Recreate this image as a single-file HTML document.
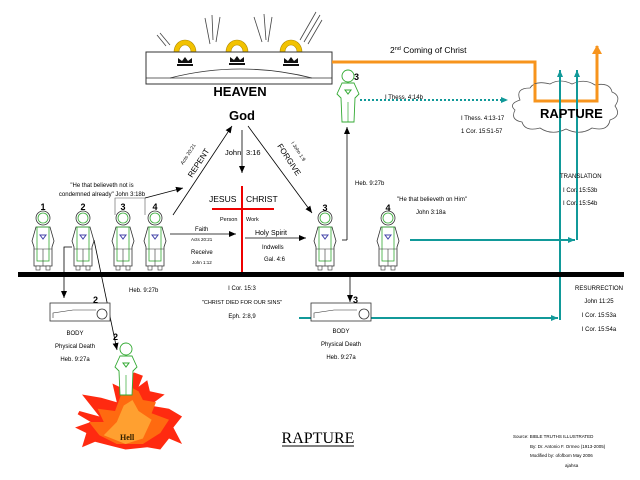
<!DOCTYPE html>
<html><head><meta charset="utf-8"><style>
html,body{margin:0;padding:0;background:#fff}
svg{display:block}
text{font-family:"Liberation Sans",sans-serif}
</style></head><body>
<svg width="640" height="480" viewBox="0 0 640 480" xmlns="http://www.w3.org/2000/svg">
<defs>
<marker id="a" markerWidth="8" markerHeight="8" refX="7" refY="4" orient="auto" markerUnits="userSpaceOnUse"><path d="M0,1 L7,4 L0,7 z" fill="#000"/></marker>
<marker id="t" markerWidth="8" markerHeight="8" refX="7" refY="4" orient="auto" markerUnits="userSpaceOnUse"><path d="M0,1 L7,4 L0,7 z" fill="#119999"/></marker>
<marker id="o" markerWidth="10" markerHeight="10" refX="8" refY="5" orient="auto" markerUnits="userSpaceOnUse"><path d="M0,0 L9,5 L0,10 z" fill="#f7941d"/></marker>
<g id="fig">
<circle cx="0" cy="7" r="7" fill="#fff" stroke="#333" stroke-width="0.8"/>
<circle cx="0" cy="7" r="5" fill="none" stroke="#3a3" stroke-width="0.8"/>
<path d="M-7,16 L-11,30 L-9,36 L-9,55 L9,55 L9,36 L11,30 L7,16 Z" fill="#fff" stroke="#333" stroke-width="0.8"/>
<rect x="-6" y="16" width="12" height="34" fill="none" stroke="#3a3" stroke-width="0.8"/>
<line x1="-9" y1="38" x2="9" y2="38" stroke="#333" stroke-width="0.6"/>
<line x1="0" y1="38" x2="0" y2="55" stroke="#333" stroke-width="0.6"/>
<rect x="-7" y="55" width="4" height="4" fill="#fff" stroke="#333" stroke-width="0.6"/>
<rect x="3" y="55" width="4" height="4" fill="#fff" stroke="#333" stroke-width="0.6"/>
<path d="M-3,24 L3,24 L0,28 Z" fill="#fff" stroke="#44a" stroke-width="1"/>
</g>
<g id="gfig">
<circle cx="0" cy="6" r="6" fill="#fff" stroke="#3a3" stroke-width="0.9"/>
<path d="M-6,13 L-11,24 L-7,28 L-6,52 L6,52 L7,28 L11,24 L6,13 Z" fill="#fff" stroke="#3a3" stroke-width="0.9"/>
<line x1="0" y1="32" x2="0" y2="52" stroke="#3a3" stroke-width="0.7"/>
<path d="M-3,20 L3,20 L0,24 Z" fill="none" stroke="#3a3" stroke-width="1"/>
</g>
<g id="crown"><path d="M-7,0 L-7,-5 L-3,-2 L0,-6 L3,-2 L7,-5 L7,0 Z" fill="#111"/><rect x="-8" y="1" width="16" height="2" fill="#111"/></g>
<g id="arch"><path d="M-11,0 A11,12 0 0 1 11,0 L6,0 A6,7 0 0 0 -6,0 Z" fill="#f2c200" stroke="#b08a00" stroke-width="0.6"/></g>
</defs>

<!-- Heaven -->
<g stroke="#444" stroke-width="0.8" fill="none">
<line x1="160" y1="33" x2="170" y2="45"/><line x1="157" y1="35" x2="166" y2="46"/>
<line x1="205" y1="18" x2="210" y2="44"/><line x1="212" y1="15" x2="213" y2="40"/><line x1="220" y1="17" x2="216" y2="42"/>
<line x1="254" y1="17" x2="262" y2="42"/><line x1="264" y1="14" x2="266" y2="40"/><line x1="272" y1="17" x2="268" y2="42"/>
<line x1="300" y1="40" x2="316" y2="12"/><line x1="304" y1="42" x2="320" y2="15"/><line x1="308" y1="44" x2="322" y2="20"/>
</g>
<use href="#arch" x="185" y="52"/><use href="#arch" x="237" y="52"/><use href="#arch" x="291" y="52"/>
<rect x="146" y="52" width="186" height="32" fill="#fff" stroke="#333" stroke-width="1"/>
<line x1="146" y1="78" x2="332" y2="78" stroke="#333" stroke-width="0.8"/>
<path d="M170,78 Q240,60 312,78" fill="none" stroke="#333" stroke-width="0.8"/>
<use href="#crown" x="185" y="63"/><use href="#crown" x="237" y="62"/><use href="#crown" x="291" y="63"/>
<text x="240" y="96" font-size="13" font-weight="bold" text-anchor="middle">HEAVEN</text>

<!-- orange -->
<polyline points="332,62 535,62 535,101 597,101 597,46" fill="none" stroke="#f7941d" stroke-width="3" marker-end="url(#o)"/>
<text x="390" y="53" font-size="8.5">2<tspan font-size="5.5" dy="-3">nd</tspan><tspan dy="3"> Coming of Christ</tspan></text>

<!-- cloud -->
<path d="M520,100 Q515,88 530,88 Q535,80 550,84 Q560,78 572,84 Q585,78 595,85 Q610,82 612,92 Q622,96 615,106 Q622,116 610,120 Q608,132 592,128 Q580,136 566,129 Q552,136 540,128 Q525,132 522,122 Q510,120 515,110 Q508,104 520,100 Z" fill="#fff" stroke="#555" stroke-width="0.8"/>
<polyline points="535,84 535,101 597,101 597,84" fill="none" stroke="#f7941d" stroke-width="3"/>

<!-- teal -->
<g stroke="#119999" stroke-width="2" fill="none">
<line x1="560" y1="320" x2="560" y2="70" marker-end="url(#t)"/>
<line x1="577" y1="240" x2="577" y2="70" marker-end="url(#t)"/>
<line x1="410" y1="240" x2="575" y2="240" marker-end="url(#t)"/>
<line x1="299" y1="318" x2="558" y2="318" marker-end="url(#t)"/>
<line x1="360" y1="100" x2="508" y2="100" stroke-dasharray="2,2" marker-end="url(#t)"/>
</g>
<text x="540" y="118" font-size="13" font-weight="bold">RAPTURE</text>
<text x="385" y="99" font-size="6">I Thess. 4:14b</text>
<text x="461" y="120" font-size="6">I Thess. 4:13-17</text>
<text x="461" y="133" font-size="6">1 Cor. 15:51-57</text>
<text x="560" y="178" font-size="6">TRANSLATION</text>
<text x="563" y="192" font-size="6">I Cor. 15:53b</text>
<text x="563" y="205" font-size="6">I Cor. 15:54b</text>

<!-- upper figure 3 -->
<use href="#gfig" x="348" y="70"/>
<text x="354" y="80" font-size="9" font-weight="bold">3</text>
<line x1="342" y1="240" x2="347" y2="240" stroke="#000" stroke-width="0.8"/>
<line x1="347" y1="240" x2="347" y2="127" stroke="#000" stroke-width="0.8" marker-end="url(#a)"/>
<text x="355" y="185" font-size="6">Heb. 9:27b</text>

<!-- God triangle -->
<text x="242" y="120" font-size="13" font-weight="bold" text-anchor="middle">God</text>
<line x1="173" y1="215" x2="232" y2="126" stroke="#000" stroke-width="0.8" marker-end="url(#a)"/>
<line x1="248" y1="126" x2="312" y2="213" stroke="#000" stroke-width="0.8" marker-end="url(#a)"/>
<line x1="242" y1="130" x2="242" y2="173" stroke="#000" stroke-width="0.8" marker-end="url(#a)"/>
<text x="225" y="155" font-size="7.5">John</text><text x="246" y="155" font-size="7.5">3:16</text>
<text transform="translate(192,178) rotate(-57)" font-size="8">REPENT</text>
<text transform="translate(183,165) rotate(-57)" font-size="5">Acts 20:21</text>
<text transform="translate(277,146) rotate(57)" font-size="8">FORGIVE</text>
<text transform="translate(291,143) rotate(57)" font-size="5">I John 1:9</text>
<polyline points="115,215 115,198 145,198 145,215" fill="none" stroke="#555" stroke-width="0.6"/>
<line x1="145" y1="198" x2="183" y2="188" stroke="#000" stroke-width="0.8" marker-end="url(#a)"/>
<text x="102" y="187" font-size="6" text-anchor="middle">"He that believeth not is</text>
<text x="102" y="196" font-size="6" text-anchor="middle">condemned already" John 3:18b</text>

<!-- cross -->
<line x1="242" y1="186" x2="242" y2="272" stroke="#e00" stroke-width="2"/>
<line x1="212" y1="209" x2="274" y2="209" stroke="#e00" stroke-width="2"/>
<text x="209" y="202" font-size="8.5">JESUS</text><text x="246" y="202" font-size="8.5">CHRIST</text>
<text x="220" y="221" font-size="5.5">Person</text><text x="246" y="221" font-size="5.5">Work</text>
<line x1="170" y1="234" x2="236" y2="234" stroke="#000" stroke-width="0.8" marker-end="url(#a)"/>
<line x1="245" y1="238" x2="306" y2="238" stroke="#000" stroke-width="0.8" marker-end="url(#a)"/>
<text x="195" y="231" font-size="6">Faith</text>
<text x="191" y="241" font-size="4.5">Acts 20:21</text>
<text x="191" y="254" font-size="6">Receive</text>
<text x="192" y="264" font-size="4.5">John 1:12</text>
<text x="255" y="235" font-size="7">Holy Spirit</text>
<text x="262" y="249" font-size="6">Indwells</text>
<text x="264" y="261" font-size="6">Gal. 4:6</text>

<!-- figures -->
<use href="#fig" x="43" y="211"/><use href="#fig" x="83" y="211"/>
<use href="#fig" x="123" y="211"/><use href="#fig" x="155" y="211"/>
<use href="#fig" x="325" y="211"/><use href="#fig" x="388" y="211"/>
<g font-size="9" font-weight="bold" text-anchor="middle">
<text x="43" y="210">1</text><text x="83" y="210">2</text><text x="123" y="210">3</text><text x="155" y="210">4</text>
<text x="325" y="211">3</text><text x="388" y="211">4</text></g>
<text x="397" y="201" font-size="6">"He that believeth on Him"</text>
<text x="416" y="214" font-size="6">John 3:18a</text>

<!-- ground -->
<rect x="18" y="272" width="606" height="5" fill="#000"/>

<!-- bottom-left -->
<polyline points="72,247 64,247 64,298" fill="none" stroke="#000" stroke-width="0.8" marker-end="url(#a)"/>
<line x1="94" y1="240" x2="117" y2="350" stroke="#000" stroke-width="0.8" marker-end="url(#a)"/>
<line x1="350" y1="277" x2="350" y2="302" stroke="#000" stroke-width="0.8" marker-end="url(#a)"/>
<text x="129" y="292" font-size="6">Heb. 9:27b</text>
<rect x="50" y="303" width="60" height="18" fill="#fff" stroke="#333" stroke-width="0.8"/>
<path d="M53,318 L53,313 L73,310 L96,310" fill="none" stroke="#333" stroke-width="0.6"/>
<circle cx="102" cy="314" r="5" fill="#fff" stroke="#333" stroke-width="0.8"/>
<text x="93" y="303" font-size="9" font-weight="bold">2</text>
<text x="75" y="335" font-size="6" text-anchor="middle">BODY</text>
<text x="75" y="348" font-size="6" text-anchor="middle">Physical Death</text>
<text x="75" y="361" font-size="6" text-anchor="middle">Heb. 9:27a</text>
<rect x="311" y="303" width="60" height="18" fill="#fff" stroke="#333" stroke-width="0.8"/>
<path d="M314,318 L314,313 L334,310 L357,310" fill="none" stroke="#333" stroke-width="0.6"/>
<circle cx="364" cy="314" r="5" fill="#fff" stroke="#333" stroke-width="0.8"/>
<text x="353" y="303" font-size="9" font-weight="bold">3</text>
<text x="341" y="333" font-size="6" text-anchor="middle">BODY</text>
<text x="341" y="346" font-size="6" text-anchor="middle">Physical Death</text>
<text x="341" y="359" font-size="6" text-anchor="middle">Heb. 9:27a</text>
<g font-size="6" text-anchor="middle"><text x="242" y="290">I Cor. 15:3</text>
<text x="242" y="304" font-size="5.5">"CHRIST DIED FOR OUR SINS"</text>
<text x="242" y="318">Eph. 2:8,9</text></g>
<text x="599" y="290" font-size="6" text-anchor="middle">RESURRECTION</text>
<text x="599" y="303" font-size="6" text-anchor="middle">John 11:25</text>
<text x="599" y="317" font-size="6" text-anchor="middle">I Cor. 15:53a</text>
<text x="599" y="331" font-size="6" text-anchor="middle">I Cor. 15:54a</text>

<!-- hell -->
<g transform="translate(-5,-40) scale(0.87,1.1)">
<path d="M95,413 L97,410 L120,415 L100,395 L122,398 L140,402 L135,385 L148,390 L150,380 L160,375 L170,378 L165,388 L175,382 L178,392 L195,395 L178,405 L200,408 L215,415 L205,425 L215,440 L200,435 L190,445 L175,443 L150,445 L130,441 L115,438 L100,443 L105,430 L92,425 L110,420 Z" fill="#ff2a10"/>
<path d="M108,420 L125,420 L118,408 L138,410 L145,395 L155,388 L165,392 L170,400 L185,402 L180,412 L200,418 L190,430 L170,440 L140,440 L120,432 Z" fill="#ff6a10"/>
<path d="M125,432 L140,420 L148,405 L158,400 L165,410 L180,418 L170,435 L150,440 Z" fill="#ffa030"/>
</g>
<text x="120" y="440" font-size="8" font-weight="bold" fill="#332200" style="font-family:'Liberation Serif',serif">Hell</text>
<use href="#gfig" x="126" y="343"/>
<text x="113" y="340" font-size="9" font-weight="bold">2</text>

<!-- title -->
<text x="318" y="443" font-size="16" text-anchor="middle" style="font-family:'Liberation Serif',serif">RAPTURE</text>
<line x1="282" y1="446" x2="354" y2="446" stroke="#000" stroke-width="1"/>
<g font-size="4.5"><text x="513" y="438">Source:  BIBLE TRUTHS ILLUSTRATED</text>
<text x="530" y="448">By:  Dr. Antonio F. Ormeo (1913-2005)</text>
<text x="530" y="457">Modified by:  ofofbom    May 2006</text>
<text x="565" y="467">ajahsa</text></g>
</svg>
</body></html>
